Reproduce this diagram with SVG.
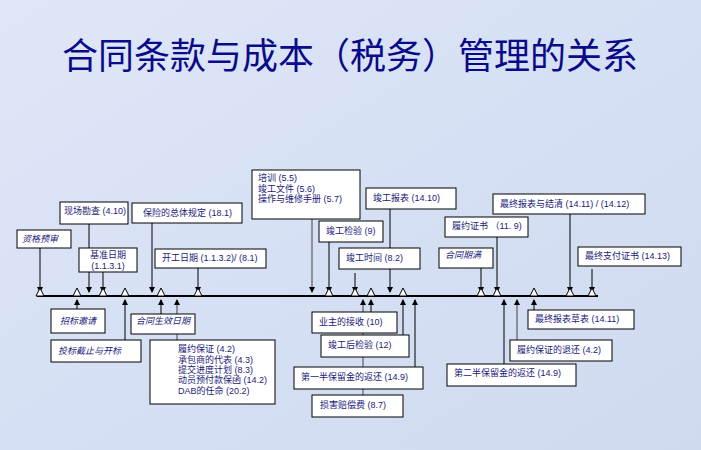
<svg xmlns="http://www.w3.org/2000/svg" width="701" height="450" viewBox="0 0 701 450">
<defs>
<linearGradient id="bg" x1="0" y1="0" x2="1" y2="1"><stop offset="0" stop-color="#dfe7f7"/><stop offset="0.5" stop-color="#d6e0f4"/><stop offset="1" stop-color="#cfdaf0"/></linearGradient>
<marker id="a" markerWidth="6" markerHeight="6" refX="5" refY="3" orient="auto" markerUnits="userSpaceOnUse"><path d="M0,0 L6,3 L0,6 z" fill="#000"/></marker>
<style>
.b{fill:#fff;stroke:#000;stroke-width:1}
.t{font-family:"Liberation Sans","Noto Sans CJK SC",sans-serif;font-size:9px;fill:#1a1a7a}
.i{font-style:italic}
.c{stroke:#000;stroke-width:1;fill:none;marker-end:url(#a)}
.g{stroke:#666;stroke-width:1.3;fill:none;marker-end:url(#a)}
.tr{fill:#fff;stroke:#000;stroke-width:1}
</style>
</defs>
<rect width="701" height="450" fill="url(#bg)"/>
<text x="350" y="69" text-anchor="middle" font-family="'Noto Sans CJK SC',sans-serif" font-size="36" fill="#0a0a8a">合同条款与成本（税务）管理的关系</text>
<g id="connectors">
<line x1="37" y1="296" x2="598" y2="296" stroke="#000" stroke-width="2"/>
<path class="c" d="M40,248V292"/>
<path class="c" d="M89,224V292"/>
<path class="c" d="M103,272V292"/>
<path class="c" d="M77,309V300"/>
<path class="c" d="M125,340V300"/>
<path class="c" d="M152,223V292"/>
<path class="c" d="M161,314V300"/>
<path class="c" d="M198,268V292"/>
<path class="g" d="M177,340V300"/>
<path class="g" d="M312,219V292"/>
<path class="c" d="M329,242V292"/>
<path class="c" d="M390,209V292"/>
<path class="c" d="M355,273V292"/>
<path class="g" d="M363,395V300"/>
<path class="c" d="M371,312V300"/>
<path class="c" d="M403,335V300"/>
<path class="c" d="M415,367V300"/>
<path class="c" d="M481,268V292"/>
<path class="c" d="M497,237V292"/>
<path class="c" d="M570,214V292"/>
<path class="c" d="M592,269V292"/>
<path class="c" d="M534,310V300"/>
<path class="g" d="M517,340V300"/>
<path class="c" d="M504,364V300"/>
<g>
<path class="tr" d="M36,296l4,-8l4,8z"/><path class="tr" d="M73,296l4,-8l4,8z"/><path class="tr" d="M99,296l4,-8l4,8z"/><path class="tr" d="M121,296l4,-8l4,8z"/><path class="tr" d="M157,296l4,-8l4,8z"/><path class="tr" d="M194,296l4,-8l4,8z"/><path class="tr" d="M325,296l4,-8l4,8z"/><path class="tr" d="M351,296l4,-8l4,8z"/><path class="tr" d="M367,296l4,-8l4,8z"/><path class="tr" d="M399,296l4,-8l4,8z"/><path class="tr" d="M477,296l4,-8l4,8z"/><path class="tr" d="M493,296l4,-8l4,8z"/><path class="tr" d="M530,296l4,-8l4,8z"/><path class="tr" d="M566,296l4,-8l4,8z"/><path class="tr" d="M588,296l4,-8l4,8z"/>
</g>
</g>
<g id="n1"><rect class="b" x="17" y="230" width="54" height="18"/><text class="t i" x="22" y="242">资格预审</text></g>
<g id="n2"><rect class="b" x="60" y="202" width="68" height="22"/><text class="t" x="64" y="214">现场勘查 (4.10)</text></g>
<g id="n3"><rect class="b" x="79" y="248" width="58" height="24"/><text class="t" x="108" y="258" text-anchor="middle">基准日期</text><text class="t" x="108" y="269" text-anchor="middle">(1.1.3.1)</text></g>
<g id="n4"><rect class="b" x="51" y="309" width="54" height="24"/><text class="t i" x="60" y="324">招标邀请</text></g>
<g id="n5"><rect class="b" x="51" y="340" width="90" height="22"/><text class="t i" x="58" y="354">投标截止与开标</text></g>
<g id="n6"><rect class="b" x="132" y="203" width="110" height="20"/><text class="t" x="143" y="216">保险的总体规定 (18.1)</text></g>
<g id="n7"><rect class="b" x="131" y="314" width="64" height="20"/><text class="t i" x="136" y="324">合同生效日期</text></g>
<g id="n8"><rect class="b" x="155" y="249" width="111" height="19"/><text class="t" x="162" y="261">开工日期 (1.1.3.2)/ (8.1)</text></g>
<g id="n9"><rect class="b" x="150" y="340" width="125" height="64"/><text class="t" x="178" y="352">履约保证 (4.2)</text><text class="t" x="178" y="363">承包商的代表 (4.3)</text><text class="t" x="178" y="373">提交进度计划 (8.3)</text><text class="t" x="178" y="383">动员预付款保函 (14.2)</text><text class="t" x="178" y="394">DAB的任命 (20.2)</text></g>
<g id="n10"><rect class="b" x="252" y="170" width="108" height="49"/><text class="t" x="258" y="181">培训 (5.5)</text><text class="t" x="258" y="192">竣工文件 (5.6)</text><text class="t" x="258" y="202">操作与维修手册 (5.7)</text></g>
<g id="n11"><rect class="b" x="319" y="221" width="64" height="21"/><text class="t" x="326" y="234">竣工检验 (9)</text></g>
<g id="n12"><rect class="b" x="366" y="188" width="90" height="21"/><text class="t" x="373" y="201">竣工报表 (14.10)</text></g>
<g id="n13"><rect class="b" x="339" y="248" width="81" height="21"/><text class="t" x="346" y="261">竣工时间 (8.2)</text></g>
<g id="n14"><rect class="b" x="312" y="312" width="85" height="21"/><text class="t" x="319" y="325">业主的接收 (10)</text></g>
<g id="n15"><rect class="b" x="321" y="335" width="88" height="22"/><text class="t" x="328" y="348">竣工后检验 (12)</text></g>
<g id="n16"><rect class="b" x="294" y="367" width="129" height="22"/><text class="t" x="301" y="380">第一半保留金的返还 (14.9)</text></g>
<g id="n17"><rect class="b" x="312" y="395" width="91" height="22"/><text class="t" x="320" y="408">损害赔偿费 (8.7)</text></g>
<g id="n18"><rect class="b" x="439" y="248" width="54" height="20"/><text class="t i" x="445" y="258">合同期满</text></g>
<g id="n19"><rect class="b" x="445" y="217" width="83" height="20"/><text class="t" x="452" y="229">履约证书 （11. 9)</text></g>
<g id="n20"><rect class="b" x="493" y="194" width="152" height="20"/><text class="t" x="500" y="207">最终报表与结清 (14.11) / (14.12)</text></g>
<g id="n21"><rect class="b" x="578" y="247" width="103" height="19"/><text class="t" x="585" y="259">最终支付证书 (14.13)</text></g>
<g id="n22"><rect class="b" x="528" y="310" width="106" height="19"/><text class="t" x="535" y="322">最终报表草表 (14.11)</text></g>
<g id="n23"><rect class="b" x="510" y="340" width="102" height="21"/><text class="t" x="517" y="353">履约保证的退还 (4.2)</text></g>
<g id="n24"><rect class="b" x="447" y="364" width="129" height="22"/><text class="t" x="454" y="376">第二半保留金的返还 (14.9)</text></g>
</svg>
